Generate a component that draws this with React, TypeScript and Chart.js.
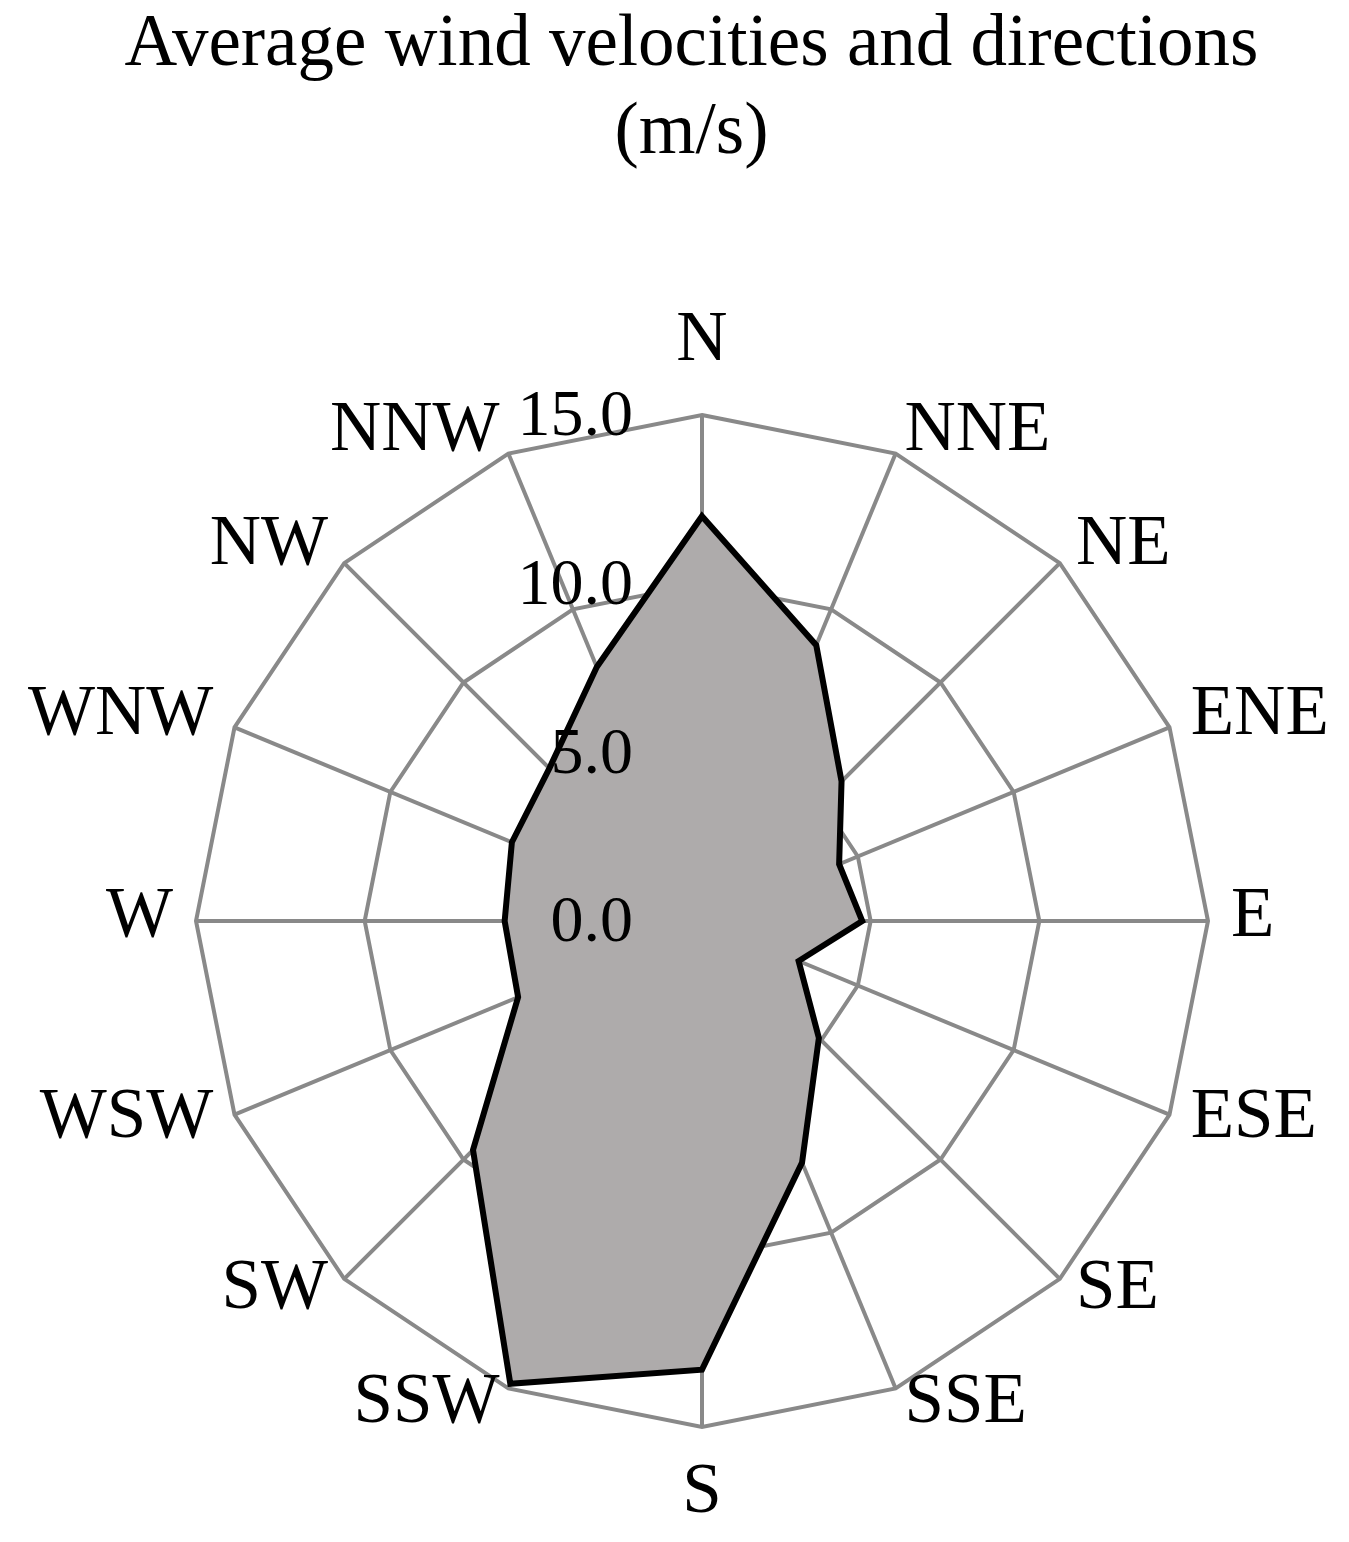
import React, { useEffect, useRef } from "react";
import { Chart, registerables } from "chart.js";

Chart.register(...registerables);

// ---- data ----
const DIRECTIONS = ["N", "NNE", "NE", "ENE", "E", "ESE", "SE", "SSE", "S", "SSW", "SW", "WSW", "W", "WNW", "NW", "NNW"];
const WIND_SPEED = [12.0, 8.85, 5.85, 4.4, 4.75, 3.1, 4.9, 7.75, 13.3, 14.85, 9.6, 5.9, 5.85, 6.1, 6.4, 8.15];
const TITLE_LINES = ["Average wind velocities and directions", "(m/s)"];
const SCALE_MIN = 0;
const SCALE_MAX = 15;
const SCALE_STEP = 5;

// ---- styles ----
const FONT = "'Liberation Serif', 'Times New Roman', serif";
const GRID_COLOR = "#898989";
const FILL_COLOR = "#AEABAB";

const shiftCenter = (scale: any) => {
  scale.xCenter += 11;
};

const labelPlugin = {
  id: "excelLikeLabels",
  afterDraw(chart: any) {
    const s = chart.scales.r;
    const ctx = chart.ctx;
    ctx.save();
    ctx.fillStyle = "#000";
    // tick labels, right-aligned left of the vertical axis
    ctx.font = `66px ${FONT}`;
    ctx.textAlign = "right";
    ctx.textBaseline = "middle";
    s.ticks.forEach((t: any) => {
      const d = s.getDistanceFromCenterForValue(t.value);
      ctx.fillText(Number(t.value).toFixed(1), s.xCenter - 69, s.yCenter - d + 3);
    });
    // category labels around the web
    ctx.font = `71px ${FONT}`;
    const labels = chart.data.labels as string[];
    for (let i = 0; i < labels.length; i++) {
      const p = s.getPointPosition(i, s.drawingArea);
      const dx = Math.cos(p.angle);
      const dy = Math.sin(p.angle);
      const vertical = Math.abs(dx) < 1e-3;
      ctx.textAlign = vertical ? "center" : dx > 0 ? "left" : "right";
      const x = p.x + 23 * dx;
      const y = p.y + dy * (vertical ? 70 : 20) - 4;
      ctx.fillText(String(labels[i]), x, y);
    }
    ctx.restore();
  },
};

export default function App() {
  const ref = useRef<HTMLCanvasElement | null>(null);

  useEffect(() => {
    if (!ref.current) return;
    const chart = new Chart(ref.current, {
      type: "radar",
      data: {
        labels: DIRECTIONS,
        datasets: [
          {
            data: WIND_SPEED,
            rAxisID: "r",
            backgroundColor: FILL_COLOR,
            borderColor: "#000000",
            borderWidth: 6,
            borderJoinStyle: "miter",
            pointRadius: 0,
            pointHoverRadius: 0,
            fill: true,
            tension: 0,
          } as any,
        ],
      },
      options: {
        responsive: true,
        maintainAspectRatio: false,
        animation: false,
        events: [],
        layout: { padding: { left: 34, right: 0, top: 0, bottom: 106 } },
        plugins: {
          legend: { display: false },
          tooltip: { enabled: false },
          title: {
            display: true,
            text: TITLE_LINES,
            color: "#000000",
            font: { family: FONT, size: 73, weight: "normal", lineHeight: 88 / 73 },
            padding: { top: -6, bottom: 237 },
          },
        },
        scales: {
          r: {
            type: "radialLinear",
            axis: "r",
            min: SCALE_MIN,
            max: SCALE_MAX,
            startAngle: 0,
            ticks: { stepSize: SCALE_STEP, display: false },
            grid: { circular: false, color: GRID_COLOR, lineWidth: 4 },
            angleLines: { display: false },
            pointLabels: { display: false },
            afterFit: shiftCenter,
          },
          spokes: {
            type: "radialLinear",
            axis: "r",
            min: SCALE_MIN,
            max: SCALE_MAX,
            startAngle: 0,
            z: 1,
            ticks: { stepSize: SCALE_STEP, display: false },
            grid: { display: false },
            angleLines: { display: true, color: GRID_COLOR, lineWidth: 4 },
            pointLabels: { display: false },
            afterFit: shiftCenter,
          },
        } as any,
      },
      plugins: [labelPlugin],
    });
    return () => chart.destroy();
  }, []);

  return (
    <div style={{ width: 1333, height: 1526, position: "relative" }}>
      <canvas ref={ref} />
    </div>
  );
}
